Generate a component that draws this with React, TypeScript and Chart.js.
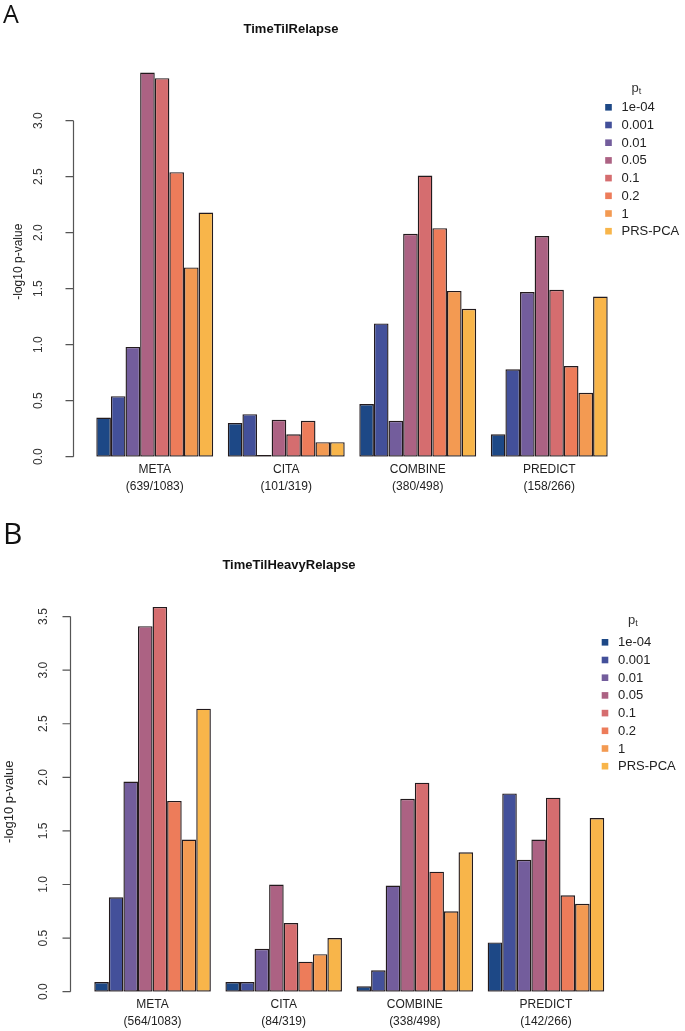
import React, { useEffect, useRef } from "react";
import { Chart, registerables } from "chart.js";

Chart.register(...registerables);

// ---------- data ----------
const THRESHOLDS = ["1e-04", "0.001", "0.01", "0.05", "0.1", "0.2", "1", "PRS-PCA"];
const COLORS = ["#1d4886", "#43509a", "#735d9c", "#ac6283", "#d56d6f", "#ed7c5a", "#f39a52", "#f8b54a"];

const CATEGORIES_A = [
  ["META", "(639/1083)"],
  ["CITA", "(101/319)"],
  ["COMBINE", "(380/498)"],
  ["PREDICT", "(158/266)"],
];
const CATEGORIES_B = [
  ["META", "(564/1083)"],
  ["CITA", "(84/319)"],
  ["COMBINE", "(338/498)"],
  ["PREDICT", "(142/266)"],
];

// values per category, in THRESHOLDS order
const A_META = [0.35, 0.54, 0.98, 3.43, 3.38, 2.54, 1.69, 2.18];
const A_CITA = [0.3, 0.38, 0.015, 0.33, 0.2, 0.32, 0.13, 0.13];
const A_COMBINE = [0.47, 1.19, 0.32, 1.99, 2.51, 2.04, 1.48, 1.32];
const A_PREDICT = [0.2, 0.78, 1.47, 1.97, 1.49, 0.81, 0.57, 1.43];

const B_META = [0.09, 0.88, 1.96, 3.41, 3.59, 1.78, 1.42, 2.64];
const B_CITA = [0.09, 0.09, 0.4, 1.0, 0.64, 0.28, 0.35, 0.5];
const B_COMBINE = [0.05, 0.2, 0.99, 1.8, 1.95, 1.12, 0.75, 1.3];
const B_PREDICT = [0.46, 1.85, 1.23, 1.42, 1.81, 0.9, 0.82, 1.62];

const Y_TICKS_A = [0, 0.5, 1, 1.5, 2, 2.5, 3];
const Y_TICKS_B = [0, 0.5, 1, 1.5, 2, 2.5, 3, 3.5];
const Y_TICK_LABELS_A = ["0.0", "0.5", "1.0", "1.5", "2.0", "2.5", "3.0"];
const Y_TICK_LABELS_B = ["0.0", "0.5", "1.0", "1.5", "2.0", "2.5", "3.0", "3.5"];

const TITLE_A = "TimeTilRelapse";
const TITLE_B = "TimeTilHeavyRelapse";
const Y_TITLE = "-log10 p-value";

// ---------- styles ----------
const FONT = '"Liberation Sans", Arial, Helvetica, sans-serif';

type PanelCfg = {
  height: number;
  letter: string;
  letterSize: number;
  letterBaseline: number;
  title: string;
  titleX: number;
  titleY: number;
  categories: string[][];
  groups: number[][];
  ticks: number[];
  tickLabels: string[];
  yMax: number;
  padTop: number;
  padRight: number;
  yWidth: number;
  xHeight: number;
  axisGap: number;
  tickLabelX: number;
  yTitleX: number;
  yTitleFromBottom: number;
  yTitleSize: number;
  legendHeaderY: number;
  legendRow1: number;
  legendGap: number;
};

const PANEL_A: PanelCfg = {
  height: 505,
  letter: "A",
  letterSize: 25,
  letterBaseline: 23,
  title: TITLE_A,
  titleX: 291,
  titleY: 29,
  categories: CATEGORIES_A,
  groups: [A_META, A_CITA, A_COMBINE, A_PREDICT],
  ticks: Y_TICKS_A,
  tickLabels: Y_TICK_LABELS_A,
  yMax: 3.5,
  padTop: 64.7,
  padRight: 70,
  yWidth: 89,
  xHeight: 48.3,
  axisGap: 16.3,
  tickLabelX: 39,
  yTitleX: 18.5,
  yTitleFromBottom: 195,
  yTitleSize: 12,
  legendHeaderY: 88,
  legendRow1: 107.3,
  legendGap: 17.7,
};

const PANEL_B: PanelCfg = {
  height: 526,
  letter: "B",
  letterSize: 30,
  letterBaseline: 38.5,
  title: TITLE_B,
  titleX: 289,
  titleY: 60,
  categories: CATEGORIES_B,
  groups: [B_META, B_CITA, B_COMBINE, B_PREDICT],
  ticks: Y_TICKS_B,
  tickLabels: Y_TICK_LABELS_B,
  yMax: 3.7,
  padTop: 90.1,
  padRight: 73.5,
  yWidth: 87,
  xHeight: 39.3,
  axisGap: 17,
  tickLabelX: 44,
  yTitleX: 9,
  yTitleFromBottom: 190,
  yTitleSize: 13,
  legendHeaderY: 115,
  legendRow1: 137.3,
  legendGap: 17.7,
};

function makeDecor(cfg: PanelCfg) {
  return {
    id: "decor" + cfg.letter,
    afterDraw(chart: any) {
      const ctx: CanvasRenderingContext2D = chart.ctx;
      const ys = chart.scales.y;
      const area = chart.chartArea;
      ctx.save();

      // y axis line and tick marks
      const axisX = Math.round(area.left - cfg.axisGap) + 0.5;
      const t0 = ys.getPixelForValue(cfg.ticks[0]);
      const t1 = ys.getPixelForValue(cfg.ticks[cfg.ticks.length - 1]);
      ctx.strokeStyle = "#555";
      ctx.lineWidth = 1.2;
      ctx.beginPath();
      ctx.moveTo(axisX, t0);
      ctx.lineTo(axisX, t1);
      cfg.ticks.forEach((v) => {
        const py = ys.getPixelForValue(v);
        ctx.moveTo(axisX, py);
        ctx.lineTo(axisX - 8, py);
      });
      ctx.stroke();

      // tick labels (rotated)
      ctx.fillStyle = "#333";
      ctx.font = `12px ${FONT}`;
      ctx.textAlign = "center";
      ctx.textBaseline = "middle";
      cfg.ticks.forEach((v, i) => {
        const py = ys.getPixelForValue(v);
        ctx.save();
        ctx.translate(cfg.tickLabelX, py);
        ctx.rotate(-Math.PI / 2);
        ctx.fillText(cfg.tickLabels[i], 0, 0);
        ctx.restore();
      });

      // y axis title
      ctx.save();
      ctx.font = `${cfg.yTitleSize}px ${FONT}`;
      ctx.fillStyle = "#222";
      ctx.translate(cfg.yTitleX, area.bottom - cfg.yTitleFromBottom);
      ctx.rotate(-Math.PI / 2);
      ctx.fillText(Y_TITLE, 0, 0);
      ctx.restore();

      // main title
      ctx.font = `bold 13px ${FONT}`;
      ctx.fillStyle = "#111";
      ctx.fillText(cfg.title, cfg.titleX, cfg.titleY);

      // panel letter
      ctx.font = `${cfg.letterSize}px "Open Sans", ${FONT}`;
      ctx.textAlign = "left";
      ctx.textBaseline = "alphabetic";
      ctx.fillStyle = "#111";
      ctx.fillText(cfg.letter, 3, cfg.letterBaseline);

      // legend
      const sqC = area.right - 6.5;
      ctx.textBaseline = "middle";
      ctx.font = `13px ${FONT}`;
      ctx.fillStyle = "#333";
      ctx.fillText("p", sqC + 23, cfg.legendHeaderY);
      const pw = ctx.measureText("p").width;
      ctx.font = `9px ${FONT}`;
      ctx.fillText("t", sqC + 23 + pw, cfg.legendHeaderY + 4);
      ctx.font = `13px ${FONT}`;
      chart.data.datasets.forEach((ds: any, i: number) => {
        const cy = cfg.legendRow1 + i * cfg.legendGap;
        ctx.fillStyle = ds.backgroundColor;
        ctx.fillRect(sqC - 3.3, cy - 3.3, 6.6, 6.6);
        ctx.fillStyle = "#222";
        ctx.fillText(ds.label, sqC + 13, cy + 0.5);
      });

      ctx.restore();
    },
  };
}

function Panel({ cfg }: { cfg: PanelCfg }) {
  const ref = useRef<HTMLCanvasElement | null>(null);
  useEffect(() => {
    if (!ref.current) return;
    const datasets = THRESHOLDS.map((label, i) => ({
      label,
      data: cfg.groups.map((g) => g[i]),
      backgroundColor: COLORS[i],
      borderColor: "#231a1d",
      borderWidth: 1.4,
      borderSkipped: false as const,
      barPercentage: 1,
      categoryPercentage: 8 / 9,
    }));
    const chart = new Chart(ref.current, {
      type: "bar",
      data: { labels: cfg.categories as any, datasets },
      options: {
        animation: false,
        responsive: false,
        maintainAspectRatio: false,
        devicePixelRatio: 1,
        layout: { padding: { top: cfg.padTop, right: cfg.padRight, left: 0, bottom: 0 } },
        plugins: { legend: { display: false }, title: { display: false }, tooltip: { enabled: false } },
        scales: {
          x: {
            type: "category",
            grid: { display: false, drawTicks: false },
            border: { display: false },
            ticks: {
              autoSkip: false,
              maxRotation: 0,
              minRotation: 0,
              padding: 4,
              color: "#222",
              font: { family: FONT, size: 12, lineHeight: 1.45 },
            },
            afterFit: (s: any) => {
              s.height = cfg.xHeight;
            },
          },
          y: {
            type: "linear",
            min: 0,
            max: cfg.yMax,
            grid: { display: false, drawTicks: false },
            border: { display: false },
            ticks: { display: false },
            afterBuildTicks: (s: any) => {
              s.ticks = cfg.ticks.map((v) => ({ value: v }));
            },
            afterFit: (s: any) => {
              s.width = cfg.yWidth;
            },
          },
        },
      },
      plugins: [makeDecor(cfg)],
    });
    return () => chart.destroy();
  }, [cfg]);
  return (
    <canvas
      ref={ref}
      width={685}
      height={cfg.height}
      style={{ display: "block", width: 685, height: cfg.height }}
    />
  );
}

export default function App() {
  return (
    <div style={{ position: "absolute", left: 0, top: 0, width: 685, height: 1031, background: "#fff" }}>
      <Panel cfg={PANEL_A} />
      <Panel cfg={PANEL_B} />
    </div>
  );
}
